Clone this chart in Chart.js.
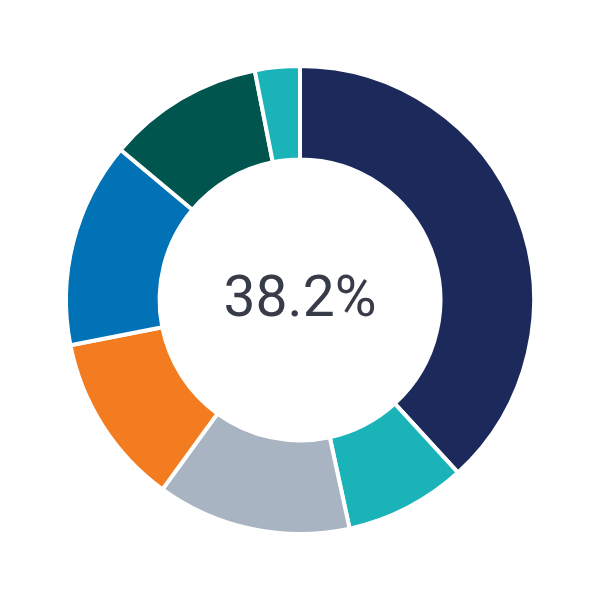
<!DOCTYPE html>
<html>
<head>
<meta charset="utf-8">
<script src="https://cdn.jsdelivr.net/npm/chart.js@4"></script>
<style>
  html, body { margin: 0; padding: 0; background: #fff; }
  #wrap { position: relative; width: 600px; height: 600px; }
  #centerLabel {
    position: absolute; left: 0; top: -4px; width: 600px; height: 600px;
    display: flex; align-items: center; justify-content: center;
    font-family: Roboto, "Liberation Sans", sans-serif; font-weight: 400;
    font-size: 57px; color: #383b48; pointer-events: none;
  }
</style>
</head>
<body>
<div id="wrap">
  <canvas id="donut" width="600" height="600"></canvas>
  <div id="centerLabel"></div>
</div>
<script>
document.addEventListener('DOMContentLoaded', function() {

    // slice shares, clockwise from the top
    const labels = ['A', 'B', 'C', 'D', 'E', 'F', 'G'];
    const values = [38.2, 8.4, 13.4, 11.9, 14.2, 10.8, 3.1];
    const colors = ['#1b2a5a', '#1ab3b8', '#a9b4c2', '#f47c20', '#0072b5', '#00554f', '#1ab3b8'];

    document.getElementById('centerLabel').textContent = values[0].toFixed(1) + '%';

    const ctx = document.getElementById('donut').getContext('2d');
    const donutChart = new Chart(ctx, {
        type: 'doughnut',
        data: {
            labels: labels,
            datasets: [{
                data: values,
                backgroundColor: colors,
                borderColor: '#ffffff',
                borderWidth: 4
            }]
        },
        options: {
            responsive: false,
            animation: false,
            cutout: '60%',
            layout: { padding: 64 },
            plugins: {
                legend: { display: false },
                tooltip: { enabled: false }
            }
        }
    });
});
</script>
</body>
</html>
